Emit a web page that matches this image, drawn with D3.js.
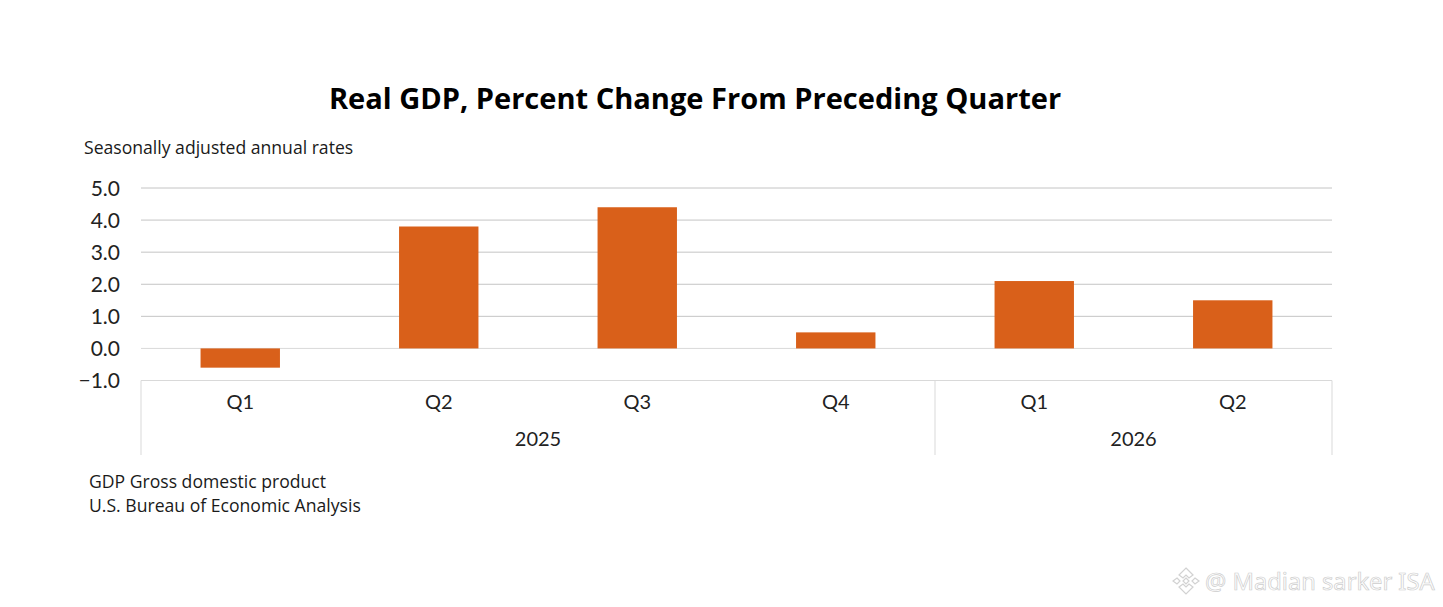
<!DOCTYPE html>
<html>
<meta charset="utf-8">
<style>
 html, body { margin: 0; padding: 0; background: #fff; overflow: hidden; }
 text { fill: #1a1a1a; }
 .tick_label { font-family: Lato, sans-serif; font-size: 21px; fill: #222; }
 .cat_label { font-family: Lato, sans-serif; font-size: 20px; fill: #222; }
 .note_text { font-family: "Open Sans", sans-serif; font-size: 17.6px; fill: #1a1a1a; }
 #title_text { font-family: "Open Sans", sans-serif; font-size: 29.05px; font-weight: 700; fill: #000; }
 #mark_text { font-family: "Noto Sans", sans-serif; font-size: 23.7px; fill: #fff; stroke: #cdcdcd; stroke-width: .7px; }
</style>
<body>
  <script src="https://d3js.org/d3.v7.min.js" charset="utf-8"></script>
  <script>

var width = 1443
var height = 607

// values
var quarters = ["Q1", "Q2", "Q3", "Q4", "Q1", "Q2"]
var gdpChange = [-0.6, 3.8, 4.4, 0.5, 2.1, 1.5]
var yTicks = [-1, 0, 1, 2, 3, 4, 5]
var years = ["2025", "2026"]
var quartersPerYear = [4, 2]

var svg = d3.select("body")
  .append("svg")
  .attr("width", width)
  .attr("height", height)
  .style("display", "block");

var x = d3.scaleBand()
  .domain(d3.range(quarters.length))
  .range([141, 1332])
  .paddingInner(0.6)
  .paddingOuter(0.3);

var y = d3.scaleLinear()
  .domain([-1, 5])
  .range([380.5, 188]);

// gridlines, the bottom one is the axis
svg.selectAll("line.grid")
  .data(yTicks)
  .enter()
  .append("line")
  .attr("class", "grid")
  .attr("x1", 141)
  .attr("x2", 1332)
  .attr("y1", function (d) { return y(d); })
  .attr("y2", function (d) { return y(d); })
  .attr("stroke", function (d) { return d <= 0 ? "#d9d9d9" : "#c4c4c4"; })
  .attr("stroke-width", 1);

svg.selectAll("text.tick_label")
  .data(yTicks)
  .enter()
  .append("text")
  .attr("class", "tick_label")
  .attr("text-anchor", "end")
  .attr("x", 120)
  .attr("y", function (d) { return y(d) + 7.5; })
  .text(function (d) { return d3.format(".1f")(d).replace("-", "\u2212"); });

svg.selectAll("rect.bar")
  .data(gdpChange)
  .enter()
  .append("rect")
  .attr("class", "bar")
  .attr("x", function (d, i) { return x(i); })
  .attr("width", x.bandwidth())
  .attr("y", function (d) { return y(Math.max(d, 0)); })
  .attr("height", function (d) { return Math.abs(y(d) - y(0)); })
  .attr("fill", "#d9601a");

svg.selectAll("text.cat_label")
  .data(quarters)
  .enter()
  .append("text")
  .attr("class", "cat_label")
  .attr("text-anchor", "middle")
  .attr("x", function (d, i) { return x(i) + x.bandwidth() / 2; })
  .attr("y", 409)
  .text(function (d) { return d; });

// year brackets under the quarters
var step = x.step();
var edges = [0, quartersPerYear[0], quartersPerYear[0] + quartersPerYear[1]];

svg.selectAll("line.sep")
  .data(edges)
  .enter()
  .append("line")
  .attr("class", "sep")
  .attr("x1", function (d) { return 141 + d * step; })
  .attr("x2", function (d) { return 141 + d * step; })
  .attr("y1", 380.5)
  .attr("y2", 455)
  .attr("stroke", "#d9d9d9");

svg.selectAll("text.year_label")
  .data(years)
  .enter()
  .append("text")
  .attr("class", "cat_label year_label")
  .attr("text-anchor", "middle")
  .attr("x", function (d, i) { return 141 + (edges[i] + edges[i + 1]) / 2 * step; })
  .attr("y", 446)
  .text(function (d) { return d; });

svg.append("text")
  .attr("id", "title_text")
  .attr("text-anchor", "middle")
  .attr("x", 695)
  .attr("y", 109)
  .text("Real GDP, Percent Change From Preceding Quarter");

svg.append("text")
  .attr("class", "note_text")
  .attr("x", 84)
  .attr("y", 154)
  .text("Seasonally adjusted annual rates");

svg.selectAll("text.foot")
  .data(["GDP Gross domestic product", "U.S. Bureau of Economic Analysis"])
  .enter()
  .append("text")
  .attr("class", "note_text foot")
  .attr("x", 89)
  .attr("y", function (d, i) { return 488 + i * 24; })
  .text(function (d) { return d; });

// watermark
var mark = svg.append("g").attr("transform", "translate(1186,581)");
mark.selectAll("path")
  .data(["M0,-13 L7,-6 L3,-3 L0,-6 L-3,-3 L-7,-6Z", "M-9,-3 L-6,0 L-9,3 L-13,0Z", "M9,-3 L13,0 L9,3 L6,0Z", "M0,-3 L3,0 L0,3 L-3,0Z", "M-7,6 L-3,3 L0,6 L3,3 L7,6 L0,13Z"])
  .enter()
  .append("path")
  .attr("d", function (d) { return d; })
  .attr("fill", "#fff")
  .attr("stroke", "#d2d2d2")
  .attr("stroke-width", 1.2);

svg.append("text")
  .attr("id", "mark_text")
  .attr("x", 1205)
  .attr("y", 590)
  .text("@ Madian sarker ISA");

  </script>
</body>
</html>
